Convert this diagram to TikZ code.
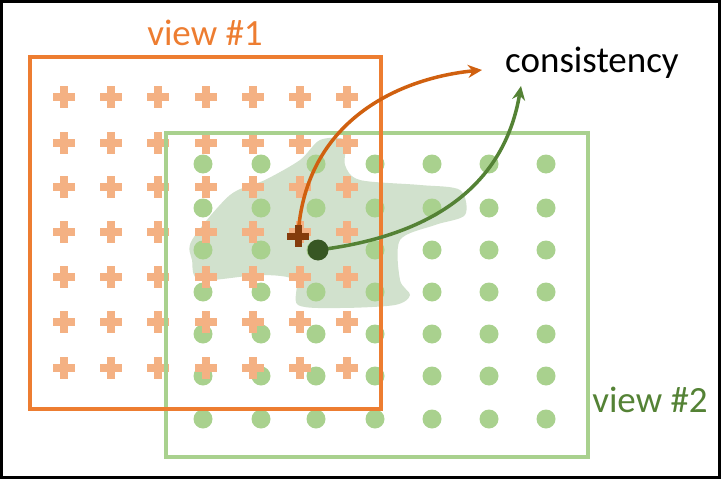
\documentclass[tikz,border=0pt]{standalone}
\usepackage{fontspec}
\setmainfont{Carlito}
\usetikzlibrary{arrows.meta}
\definecolor{orD}{HTML}{ED7D31}
\definecolor{orA}{HTML}{D0600F}
\definecolor{orL}{HTML}{F4B183}
\definecolor{grL}{HTML}{A9D18E}
\definecolor{grD}{HTML}{548235}
\definecolor{blob}{HTML}{C5D9C0}
\definecolor{brn}{HTML}{843C0C}
\definecolor{grX}{HTML}{375623}
\begin{document}
\begin{tikzpicture}[x=1pt,y=-1pt,
  plusm/.style={orL,line width=8pt},
  dotm/.style={fill=grL},
  lbl/.style={font=\fontsize{37}{40}\selectfont,inner sep=0pt}]
\useasboundingbox (0,0) rectangle (721,479);
\draw[line width=3pt] (1.5,1.5) rectangle (719.5,477.5);
\fill[blob,opacity=0.8] plot[smooth cycle,tension=0.5] coordinates{(192,240)(230,195)(265,180)(300,160)(320,140)(345,140)(345,165)(360,180)(420,185)(460,190)(465,215)(435,225)(400,240)(400,280)(410,295)(395,305)(340,308)(298,305)(295,280)(260,275)(200,280)(192,260)};
\foreach \x in {203,261,316,375,432,489,546}
 \foreach \y in {164,208,250,292,334,376,419}
  \fill[dotm] (\x,\y) circle (9.5);
\foreach \x in {64,111,158,206,253,300,347}
 \foreach \y in {97,143,187,232,277,322,368}{
  \draw[plusm] (\x-11,\y) -- (\x+11,\y);
  \draw[plusm] (\x,\y-11) -- (\x,\y+11);}
\draw[grL,line width=3.5pt] (166,133) rectangle (588,457);
\draw[orD,line width=4pt] (30,57) rectangle (381,409);
\coordinate (pc) at (298,236);
\coordinate (gc) at (318,250);
\node[lbl,text=orD] (v1) at (205,33) {view \#1};
\node[lbl,text=grD] (v2) at (650,400) {view \#2};
\node[lbl] (cons) at (592,63) {consistency};
\coordinate (oe) at (482,70);
\coordinate (ge) at (521,86);
\draw[orA,line width=3.5pt,-{Stealth[length=14pt,width=13pt]}] (pc) .. controls (305,120) and (400,78) .. (oe);
\draw[grD,line width=3.5pt,-{Stealth[length=14pt,width=13pt]}] (gc) .. controls (440,235) and (505,180) .. (ge);
\draw[brn,line width=7pt] (287,236) -- (309,236) (298,225) -- (298,247);
\fill[grX] (gc) circle (10.5);
\end{tikzpicture}
\end{document}
